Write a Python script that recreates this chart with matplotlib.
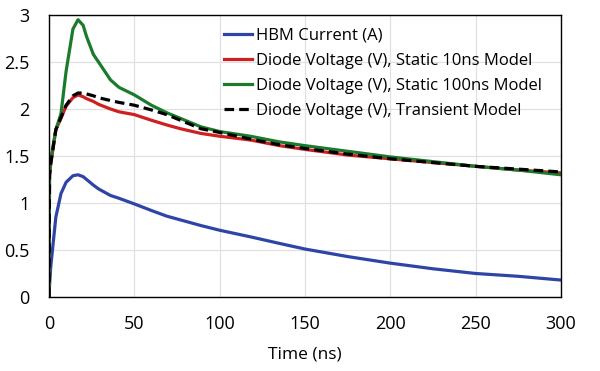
import numpy as np
import matplotlib
matplotlib.use('Agg')
import matplotlib.pyplot as plt

plt.rcParams['font.family'] = ['Open Sans', 'DejaVu Sans']

# time axis (ns)
t_ns = [0, 0.3, 1, 4, 7, 10, 14, 17, 20, 22, 26, 29, 36, 41, 50, 60, 69, 77, 89, 100,
        118, 135, 150, 175, 200, 225, 250, 275, 300]

hbm_current = [0, 0.12, 0.32, 0.85, 1.10, 1.22, 1.29, 1.30, 1.28, 1.25, 1.19, 1.15,
               1.08, 1.05, 0.99, 0.92, 0.86, 0.82, 0.76, 0.71, 0.64, 0.57, 0.51,
               0.43, 0.36, 0.30, 0.25, 0.22, 0.18]
v_static10 = [0, 1.28, 1.41, 1.78, 1.90, 2.03, 2.12, 2.15, 2.13, 2.11, 2.08, 2.05,
              2.00, 1.97, 1.94, 1.88, 1.83, 1.79, 1.74, 1.71, 1.67, 1.61, 1.57,
              1.51, 1.47, 1.43, 1.39, 1.35, 1.32]
v_static100 = [0, 1.30, 1.46, 1.78, 1.95, 2.40, 2.85, 2.95, 2.89, 2.77, 2.58, 2.50,
               2.31, 2.23, 2.15, 2.04, 1.96, 1.90, 1.81, 1.76, 1.71, 1.65, 1.61,
               1.55, 1.49, 1.44, 1.39, 1.35, 1.30]
v_transient = [0, 1.30, 1.42, 1.78, 1.91, 2.04, 2.14, 2.17, 2.17, 2.16, 2.14, 2.12,
               2.09, 2.07, 2.04, 1.99, 1.94, 1.88, 1.79, 1.75, 1.68, 1.62, 1.58,
               1.52, 1.47, 1.43, 1.39, 1.36, 1.33]

fig = plt.figure(figsize=(6, 3.71), dpi=100)
ax = fig.add_axes([0.0817, 0.1995, 0.8533, 0.7601])

lw = 2.3
ax.plot(t_ns, hbm_current, color='#2f45a6', lw=lw, label='HBM Current (A)')
ax.plot(t_ns, v_static10, color='#d01f1f', lw=lw,
        label='Diode Voltage (V), Static 10ns Model')
ax.plot(t_ns, v_static100, color='#1c7a2c', lw=lw,
        label='Diode Voltage (V), Static 100ns Model')
ax.plot(t_ns, v_transient, color='black', lw=lw, ls=(0, (3, 1.6)),
        label='Diode Voltage (V), Transient Model')

ax.set_xlim(0, 300)
ax.set_ylim(0, 3)
ax.set_xticks(np.arange(0, 301, 50))
ax.set_yticks([0, 0.5, 1, 1.5, 2, 2.5, 3])
ax.set_yticklabels(['0', '0.5', '1', '1.5', '2', '2.5', '3'])
ax.grid(True, color='#e0e0e0', lw=0.9)
ax.set_axisbelow(True)
ax.tick_params(length=0, labelsize=13)
ax.tick_params(axis='x', pad=13)
ax.tick_params(axis='y', pad=14)
for s in ax.spines.values():
    s.set_color('black')
    s.set_linewidth(1.0)
ax.set_xlabel('Time (ns)', fontsize=12.5, labelpad=10)

ax.legend(loc='upper left', bbox_to_anchor=(0.342, 0.955), frameon=False,
          fontsize=12, handlelength=1.7, handletextpad=0.2,
          labelspacing=0.55, borderaxespad=0, borderpad=0)

fig.savefig('out.png', dpi=100)
